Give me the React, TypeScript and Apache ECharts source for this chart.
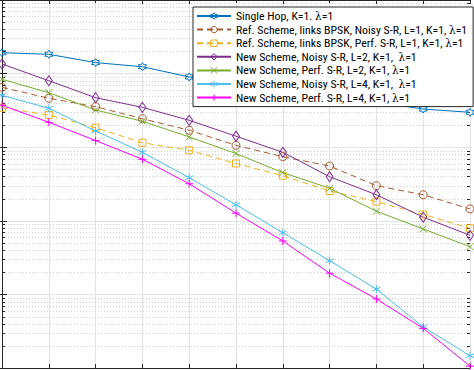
import React, { useEffect, useRef } from "react";
import * as echarts from "echarts";

// x positions (SNR, arbitrary units – labels are cropped out in the reference)
const snr = [0, 2, 4, 6, 8, 10, 12, 14, 16, 18, 20];

const singleHop = [0.192, 0.183, 0.141, 0.124, 0.09, 0.0745, 0.0618, 0.0512, 0.0411, 0.033, 0.0298];
const refNoisy = [0.0651, 0.0462, 0.0355, 0.0244, 0.017, 0.0106, 0.00743, 0.00555, 0.003, 0.00226, 0.00145];
const refPerf = [0.0344, 0.0274, 0.0184, 0.0115, 0.00908, 0.00601, 0.0041, 0.00254, 0.00182, 0.00122, 0.000791];
const newNoisyL2 = [0.135, 0.08, 0.0471, 0.0348, 0.0232, 0.0141, 0.00853, 0.00397, 0.00226, 0.00112, 0.000635];
const newPerfL2 = [0.0837, 0.055, 0.032, 0.0225, 0.0138, 0.00821, 0.00451, 0.00277, 0.00135, 0.000774, 0.000445];
const newNoisyL4 = [0.0507, 0.0338, 0.0166, 0.00853, 0.00385, 0.00165, 0.000689, 0.000287, 0.000118, 0.0000361, 0.0000147];
const newPerfL4 = [0.0371, 0.0218, 0.0123, 0.00685, 0.00319, 0.00127, 0.000532, 0.000194, 0.0000866, 0.0000346, 0.0000106];

const seriesNames = [
  "Single Hop, K=1. λ=1",
  "Ref. Scheme, links BPSK, Noisy S-R, L=1, K=1, λ=1",
  "Ref. Scheme, links BPSK, Perf. S-R, L=1, K=1, λ=1",
  "New Scheme, Noisy S-R, L=2, K=1,  λ=1",
  "New Scheme, Perf. S-R, L=2, K=1, λ=1",
  "New Scheme, Noisy S-R, L=4, K=1,  λ=1",
  "New Scheme, Perf. S-R, L=4, K=1, λ=1",
];

// y axis decades and minor tick multipliers (log axis, MATLAB style)
const yMin = 1e-5;
const yMax = 1;
const decades = [1e-5, 1e-4, 1e-3, 1e-2, 1e-1];
const minorMultipliers = [2, 3, 4, 5, 6, 7, 8, 9];

const HEXAGRAM =
  "path://M0,-10 L2.9,-5 L8.66,-5 L5.8,0 L8.66,5 L2.9,5 L0,10 L-2.9,5 L-8.66,5 L-5.8,0 L-8.66,-5 L-2.9,-5 Z";
const XMARK = "path://M-1,-1 L1,1 M1,-1 L-1,1";
const STAR = "path://M0,-1 L0,1 M-0.87,-0.5 L0.87,0.5 M-0.87,0.5 L0.87,-0.5";
const PLUS = "path://M0,-1 L0,1 M-1,0 L1,0";

export default function App() {
  const ref = useRef<HTMLDivElement>(null);

  useEffect(() => {
    if (!ref.current) return;
    const chart = echarts.init(ref.current, null, { renderer: "svg" });

    const pair = (ys: number[]) => snr.map((x, i) => [x, ys[i]]);

    const minorData: number[][] = [];
    decades.forEach((d) => minorMultipliers.forEach((m) => minorData.push([snr[0], d * m])));

    const mk = (
      name: string,
      ys: number[],
      color: string,
      symbol: string,
      size: number | number[],
      dashed = false
    ) => ({
      name,
      type: "line",
      data: pair(ys),
      symbol,
      symbolSize: size,
      showSymbol: true,
      z: 3,
      lineStyle: { color, width: 1, type: dashed ? [6, 4] : "solid" },
      itemStyle: { color: "rgba(255,255,255,0)", borderColor: color, borderWidth: 1 },
      emphasis: { disabled: true },
    });

    const axisColor = "#262626";
    const gridColor = "#e3e3e3";

    const option: any = {
      animation: false,
      grid: { left: 2, right: 4, top: 0, bottom: 2, containLabel: false },
      xAxis: [
        {
          type: "value",
          min: 0,
          max: 20,
          interval: 2,
          axisLabel: { show: false },
          axisLine: { lineStyle: { color: axisColor, width: 1 } },
          axisTick: { inside: true, length: 4, lineStyle: { color: axisColor } },
          splitLine: { show: true, lineStyle: { color: gridColor, width: 1 } },
        },
        {
          type: "value",
          position: "top",
          min: 0,
          max: 20,
          interval: 2,
          axisLabel: { show: false },
          axisLine: { show: true, lineStyle: { color: axisColor, width: 1 } },
          axisTick: { inside: true, length: 4, lineStyle: { color: axisColor } },
          splitLine: { show: false },
        },
      ],
      yAxis: [
        {
          type: "log",
          logBase: 10,
          min: yMin,
          max: yMax,
          axisLabel: { show: false },
          axisLine: { show: true, lineStyle: { color: axisColor, width: 1 } },
          axisTick: { inside: true, length: 5, lineStyle: { color: axisColor } },
          splitLine: { show: true, lineStyle: { color: gridColor, width: 1 } },
        },
        {
          type: "log",
          logBase: 10,
          position: "right",
          min: yMin,
          max: yMax,
          axisLabel: { show: false },
          axisLine: { show: true, lineStyle: { color: axisColor, width: 1 } },
          axisTick: { inside: true, length: 5, lineStyle: { color: axisColor } },
          splitLine: { show: false },
        },
      ],
      legend: {
        data: seriesNames,
        orient: "vertical",
        left: 193,
        top: 7,
        padding: [3, 6, 3, 3],
        itemWidth: 34,
        itemHeight: 8,
        itemGap: 1.6,
        backgroundColor: "#ffffff",
        borderColor: "#262626",
        borderWidth: 1,
        borderRadius: 0,
        selectedMode: false,
        itemStyle: { color: "rgba(255,255,255,0)", borderColor: "inherit", borderWidth: 1 },
        formatter: (name: string) => name.replace("λ", "{l|λ}"),
        textStyle: {
          fontFamily: "'Liberation Sans Narrow', 'Roboto Condensed', Roboto, sans-serif",
          fontSize: 11.8,
          lineHeight: 12,
          color: "#000000",
          rich: {
            l: { fontFamily: "'DejaVu Serif', serif", fontSize: 10.5, lineHeight: 12, color: "#000000" },
          },
        },
        z: 10,
      },
      series: [
        {
          name: "minor",
          type: "custom",
          silent: true,
          z: 1,
          data: minorData,
          encode: { x: 0, y: 1 },
          renderItem: (params: any, api: any) => {
            const cs = params.coordSys;
            const p = api.coord([api.value(0), api.value(1)]);
            const y = Math.round(p[1]) + 0.5;
            return {
              type: "group",
              children: [
                {
                  type: "line",
                  shape: { x1: cs.x, y1: y, x2: cs.x + cs.width, y2: y },
                  style: { stroke: "#cfcfcf", lineWidth: 1, lineDash: [1, 2] },
                },
                {
                  type: "line",
                  shape: { x1: cs.x, y1: y, x2: cs.x + 3, y2: y },
                  style: { stroke: axisColor, lineWidth: 1 },
                },
                {
                  type: "line",
                  shape: { x1: cs.x + cs.width - 3, y1: y, x2: cs.x + cs.width, y2: y },
                  style: { stroke: axisColor, lineWidth: 1 },
                },
              ],
            };
          },
        },
        mk(seriesNames[0], singleHop, "#0072BD", HEXAGRAM, 8),
        mk(seriesNames[1], refNoisy, "#A65A32", "circle", 8, true),
        mk(seriesNames[2], refPerf, "#EDB120", "rect", 7, true),
        mk(seriesNames[3], newNoisyL2, "#7E2F8E", "diamond", [7, 10]),
        mk(seriesNames[4], newPerfL2, "#77AC30", XMARK, 7),
        mk(seriesNames[5], newNoisyL4, "#4DBEEE", STAR, 8),
        mk(seriesNames[6], newPerfL4, "#FF00FF", PLUS, 8),
      ],
    };

    chart.setOption(option);
    return () => chart.dispose();
  }, []);

  return (
    <div
      ref={ref}
      style={{ position: "fixed", left: 0, top: 0, width: 474, height: 370, background: "#ffffff" }}
    />
  );
}
